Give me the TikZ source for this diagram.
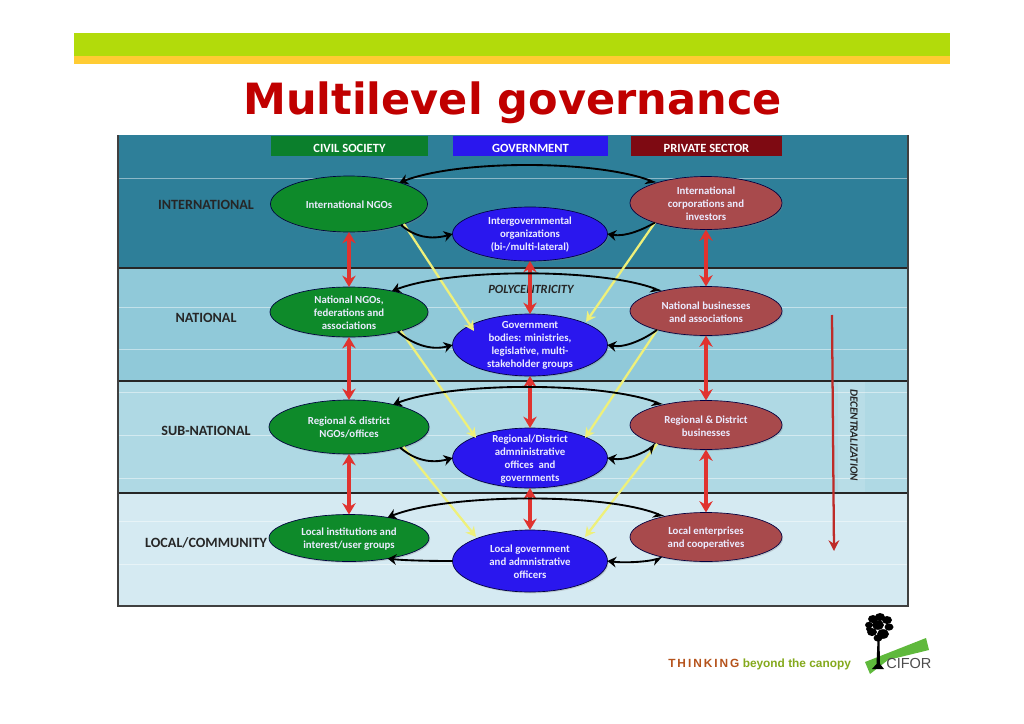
\documentclass[tikz,border=0pt]{standalone}
\usepackage{fontspec}
\setmainfont{Carlito}
\newfontfamily\titlefont{DejaVu Sans}
\newfontfamily\footfont{Liberation Sans}
\usetikzlibrary{shapes.geometric,arrows.meta,shadows}
\definecolor{bandA}{HTML}{2E7F99}
\definecolor{bandB}{HTML}{90C9D9}
\definecolor{bandC}{HTML}{AFD9E4}
\definecolor{bandD}{HTML}{D5EAF2}
\definecolor{civil}{HTML}{0E8A2A}
\definecolor{civilhead}{HTML}{0B7F2C}
\definecolor{gov}{HTML}{2A17EE}
\definecolor{privhead}{HTML}{7E0A12}
\definecolor{priv}{HTML}{A84A4C}
\definecolor{redline}{HTML}{E0332F}
\definecolor{yell}{HTML}{EEF07A}
\definecolor{titlered}{HTML}{C00000}
\tikzset{
  ell/.style={ellipse,draw=black!75!blue,line width=.5pt,inner sep=0pt,outer sep=0pt,
    drop shadow={opacity=.3,shadow xshift=.8pt,shadow yshift=-1pt}},
  lab/.style={align=center,text=white!92!blue,font=\bfseries\fontsize{8.1}{9.75}\selectfont,inner sep=0pt,yshift=-.6pt},
  side/.style={font=\bfseries\fontsize{10.6}{12}\selectfont,text=black!85,inner sep=0pt,yshift=-.6pt},
  head/.style={font=\bfseries\fontsize{9.4}{10}\selectfont,text=white,inner sep=0pt,text height=12.2pt,text depth=2.8pt},
  vert/.style={draw=redline,line width=2.3pt,{Stealth[length=8.5pt,width=10pt]}-{Stealth[length=8.5pt,width=10pt]}},
  blk/.style={draw=black,line width=1.4pt,-{Stealth[length=6.5pt,width=8pt]}},
  blkb/.style={draw=black,line width=1.4pt,{Stealth[length=6.5pt,width=8pt]}-{Stealth[length=7pt,width=8pt,harpoon,swap]}},
  yel/.style={draw=yell,line width=1.7pt,-{Stealth[length=7.5pt,width=8pt]}},
  hair/.style={draw=white,opacity=.45,line width=.4pt},
  bandline/.style={draw=black!85,line width=.9pt},
  decor/.style={text=black!85,inner sep=0pt},
}
\newcommand{\ellnode}[7]{%
  \node[ell,fill=#6,minimum width={#4*0.75pt},minimum height={#5*0.75pt}] (#1) at (#2,#3) {};
  \node[lab] (#1t) at (#1.center) {#7};}
\begin{document}
\begin{tikzpicture}[x=0.75pt,y=-0.75pt]
\useasboundingbox (0,0) rectangle (1024,724);
% top bars
\fill[fill={rgb,255:red,178;green,219;blue,11}] (74,33) rectangle (950,56);
\fill[fill={rgb,255:red,255;green,204;blue,51}] (74,56) rectangle (950,64);
\node[text=titlered,font=\titlefont\bfseries\fontsize{32.3}{36}\selectfont,inner sep=0pt] (title) at (512.5,103) {Multilevel governance};
% bands
\fill[bandA] (118,135) rectangle (908,268);
\fill[bandB] (118,268) rectangle (908,381);
\fill[bandC] (118,381) rectangle (908,493);
\fill[bandD] (118,493) rectangle (908,606);
\fill[white,opacity=.12] (838,381) rectangle (865,493);
% hairlines
\foreach \yy in {178,307,349,392,435,478,521,564}{\draw[hair] (118,\yy) -- (908,\yy);}
\draw[bandline] (118,268) -- (908,268);
\draw[bandline] (118,381) -- (908,381);
\draw[bandline] (118,493) -- (908,493);
\draw[draw=black!75,line width=.9pt] (118,135) -- (118,606) -- (908,606) -- (908,135);
% headers
\node[head,fill=civilhead,minimum width=117.75pt] (h1) at (349.5,146) {CIVIL SOCIETY};
\node[head,fill=gov,minimum width=116.25pt] (h2) at (530.5,146) {GOVERNMENT};
\node[head,fill=privhead,minimum width=113.25pt] (h3) at (706.5,146) {PRIVATE SECTOR};
% side labels
\node[side] (s1) at (206,204) {INTERNATIONAL};
\node[side] (s2) at (206,317) {NATIONAL};
\node[side] (s3) at (206,430) {SUB-NATIONAL};
\node[side] (s4) at (206,542) {LOCAL/COMMUNITY};
% polycentricity
\node[decor,font=\bfseries\itshape\fontsize{9.4}{10}\selectfont] (poly) at (531,289) {POLYCENTRICITY};
% ellipses
\ellnode{g1}{349}{204}{157}{56}{civil}{International NGOs}
\ellnode{g2}{349}{312}{158}{50}{civil}{National NGOs,\\federations and\\associations}
\ellnode{g3}{349}{427}{160}{54}{civil}{Regional \& district\\NGOs/offices}
\ellnode{g4}{349}{538}{160}{47}{civil}{Local institutions and\\interest/user groups}
\ellnode{b1}{530}{234}{155}{54}{gov}{Intergovernmental\\organizations\\(bi-/multi-lateral)}
\ellnode{b2}{530}{345}{155}{62}{gov}{Government\\bodies: ministries,\\legislative, multi-\\stakeholder groups}
\ellnode{b3}{530}{458}{155}{60}{gov}{Regional/District\\admninistrative\\offices\ \ and\\governments}
\ellnode{b4}{530}{561}{155}{62}{gov}{Local government\\and admnistrative\\officers}
\ellnode{r1}{706}{203}{152}{53}{priv}{International\\corporations and\\investors}
\ellnode{r2}{706}{311}{152}{49}{priv}{National businesses\\and associations}
\ellnode{r3}{706}{425}{152}{49}{priv}{Regional \& District\\businesses}
\ellnode{r4}{706}{537}{152}{49}{priv}{Local enterprises\\and cooperatives}
% yellow
\draw[yel] (g1.-20) -- ([shift={(-56,-14)}]b2.center);
\draw[yel] (r1.201) -- ([shift={(56,-23)}]b2.center);
\draw[yel] (g2.-20) -- ([shift={(-54,-20)}]b3.center);
\draw[yel] (r2.201) -- ([shift={(55,-20)}]b3.center);
\draw[yel] (g3.-20) -- ([shift={(-54,-24)}]b4.center);
\draw[yel] (r3.201) -- ([shift={(55,-24)}]b4.center);
% vertical red
\foreach \aa/\bb in {g1/g2,g2/g3,g3/g4,b1/b2,b2/b3,b3/b4,r1/r2,r2/r3,r3/r4}{
  \draw[vert] (\aa.south) -- (\bb.north);}
% black side
\foreach \cc in {1,2,3}{
  \draw[blk] (g\cc.-22) .. controls +(14,12) and +(-22,6) .. (b\cc.west);}
\draw[blk] (r1.201) .. controls +(-12,7) and +(18,3) .. (b1.east);
\draw[blk] (r2.201) .. controls +(-12,9) and +(18,3) .. (b2.east);
\draw[blkb] (b3.east) .. controls +(18,3) and +(-10,9) .. (r3.200);
\draw[blkb] (b4.east) .. controls +(16,2) and +(-16,5) .. (r4.205);
\draw[blk] (b4.west) .. controls +(-20,0) and +(18,2) .. (g4.-28);
% black arcs
\draw[blkb] (g1.23) .. controls +(60,-23) and +(-60,-23) .. (r1.158);
\draw[blkb] (g2.26) .. controls +(60,-23) and +(-60,-23) .. (r2.156);
\draw[blkb] (g3.27) .. controls +(60,-23) and +(-60,-23) .. (r3.155);
\draw[blkb] (g4.28) .. controls +(60,-24) and +(-60,-24) .. (r4.154);
% decentralization
\coordinate (d1) at (832,315);
\coordinate (d2) at (834,551);
\draw[draw=redline!85!black,line width=1.7pt,-{Stealth[length=8pt,width=8pt]}] (d1) -- (d2);
\node[decor,rotate=-90,font=\bfseries\itshape\fontsize{8.4}{9}\selectfont] (dec) at (854,435) {DECENTRALIZATION};
% footer
\node[anchor=west,font=\footfont\bfseries\fontsize{8.9}{10}\selectfont,inner sep=0pt] (foot) at (668,664) {\textcolor[HTML]{B5521B}{T\,H\,I\,N\,K\,I\,N\,G} \textcolor[HTML]{84A91C}{beyond the canopy}};
% logo
\fill[fill={rgb,255:red,95;green,185;blue,60}] (865,662) -- (926,638) -- (929,650) -- (888,660) -- (870,674) -- cycle;
\fill[black] (877.5,640) -- (879.5,640) -- (880,664) -- (884,669) -- (872,669) -- (876.5,664) -- cycle;
\foreach \px/\py/\pr in {880/617/5,873/619/5,887/620/5,869/625/4,878/625/6,889/627/4.5,872/632/5,883/634/6,878/638/4.5,869/629/3}{
  \fill[black] (\px,\py) ellipse [x radius=\pr,y radius=\pr*.8];}
\node[anchor=west,font=\footfont\fontsize{10.9}{14}\selectfont,text=black!70,inner sep=0pt] (cifor) at (886,663) {CIFOR};
\end{tikzpicture}
\end{document}
